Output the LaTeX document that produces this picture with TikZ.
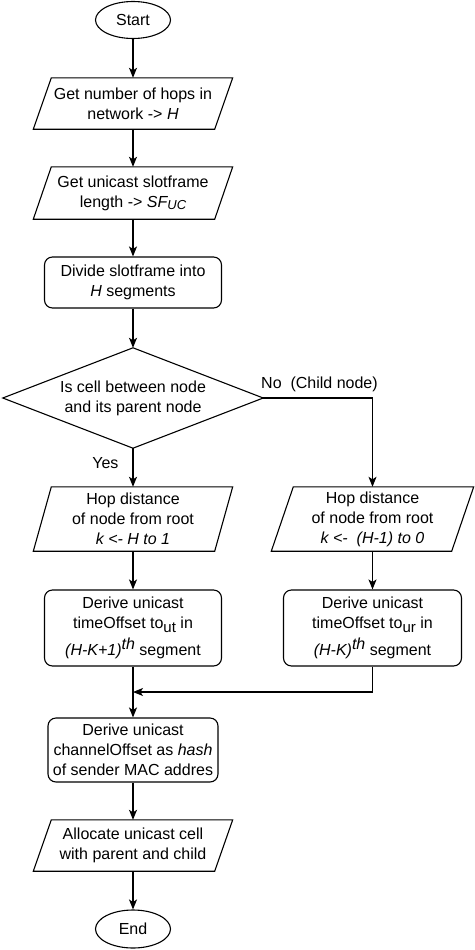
\documentclass[tikz,border=0pt]{standalone}
\usepackage{fontspec}
\setmainfont{Liberation Sans}
\usetikzlibrary{shapes.geometric,arrows.meta}
\newcommand\drawpara[2]{\draw[shapeline] ([xshift=#2]#1.north west) -- ([xshift=#2]#1.north east) -- ([xshift=-#2]#1.south east) -- ([xshift=-#2]#1.south west) -- cycle;}
\newcommand\lowsub[1]{\raisebox{-4pt}{\fontsize{15}{15}\selectfont #1}}
\begin{document}
\begin{tikzpicture}[x=1pt,y=-1pt,
  every node/.style={font=\fontsize{16}{20}\selectfont, align=center, inner sep=0pt},
  shapeline/.style={draw=black, line width=1.1pt},
  term/.style={shapeline, ellipse, minimum width=75pt, minimum height=37pt},
  procbox/.style={shapeline, rectangle, rounded corners=8pt, minimum width=177pt},
  parabox/.style={rectangle, minimum width=181pt},
  arr/.style={line width=1.1pt, -{Stealth[length=10pt,width=8pt,inset=2.5pt]}},
  plain/.style={line width=1.1pt}]
\useasboundingbox (0,0) rectangle (474,950);
\fill[white] (0,0) rectangle (474,950);

\node[term] (start) at (133,20) {Start};

\node[parabox, minimum height=51pt] (p1) at (133,103.5) {Get number of hops in\\network -> \textit{H}};
\drawpara{p1}{9pt}

\node[parabox, minimum height=52pt] (p2) at (133,193) {Get unicast slotframe\\length -> \textit{SF\raisebox{-2pt}{\fontsize{13}{13}\selectfont UC}}};
\drawpara{p2}{9pt}

\node[procbox, minimum height=51pt] (div) at (133,282.5) {Divide slotframe into\\\textit{H} segments};

\node[rectangle, minimum width=260pt, minimum height=100pt] (dec) at (133,398) {Is cell between node\\and its parent node};
\draw[shapeline] (dec.north) -- (dec.east) -- (dec.south) -- (dec.west) -- cycle;

\node[parabox, minimum height=64pt] (hl) at (133,519) {Hop distance\\of node from root\\\textit{k <- H to 1}};
\drawpara{hl}{9pt}

\node[parabox, minimum width=180pt, minimum height=64pt] (hr) at (372.5,519) {Hop distance\\of node from root\\\textit{k <-\ \ (H-1) to 0}};
\drawpara{hr}{11pt}

\node[procbox, minimum height=76pt] (dl) at (133,628) {Derive unicast\\timeOffset to\lowsub{ut} in\\[4pt]\textit{(H-K+1)\raisebox{6pt}{th}} segment};

\node[procbox, minimum width=178pt, minimum height=76pt] (dr) at (372.5,628) {Derive unicast\\timeOffset to\lowsub{ur} in\\[4pt]\textit{(H-K)\raisebox{6pt}{th}} segment};

\coordinate (join) at (133,692);

\node[procbox, minimum width=170pt, minimum height=64pt] (ch) at (133,750) {Derive unicast\\channelOffset as \textit{hash}\\of sender MAC addres};

\node[parabox, minimum height=51pt] (al) at (133,845.5) {Allocate unicast cell\\with parent and child};
\drawpara{al}{9pt}

\node[term, minimum height=38pt] (end) at (133,929) {End};

\draw[arr] (start) -- (p1);
\draw[arr] (p1) -- (p2);
\draw[arr] (p2) -- (div);
\draw[arr] (div) -- (dec);
\draw[arr] (dec.south) -- (hl.north) node[pos=0.38, left=14pt] {Yes};
\draw[arr] (dec.east) -| (hr.north);
\node[anchor=west] (nolab) at (261,384) {No\ \ (Child node)};
\draw[arr] (hl) -- (dl);
\draw[arr] (hr) -- (dr);
\draw[arr] (dl) -- (ch);
\draw[arr] (dr.south) |- (join);
\draw[arr] (ch) -- (al);
\draw[arr] (al) -- (end);
\end{tikzpicture}
\end{document}
